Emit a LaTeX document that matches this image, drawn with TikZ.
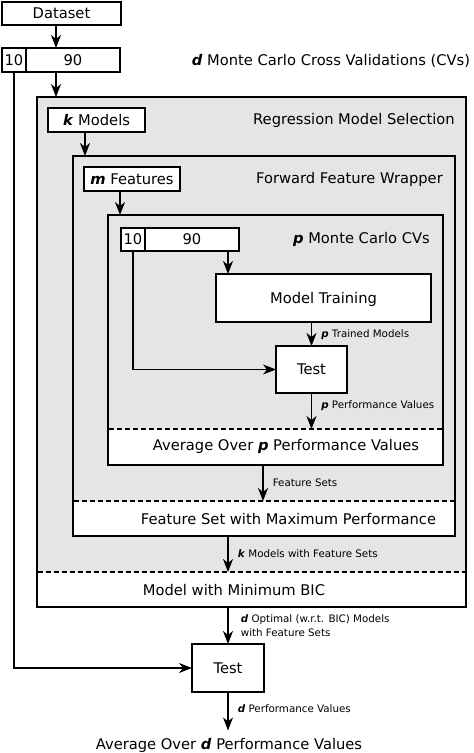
\documentclass[tikz,border=0pt]{standalone}
\usepackage{fontspec}
\setmainfont{DejaVu Sans}
\usetikzlibrary{arrows.meta}

\definecolor{fundo}{gray}{0.9}
\newcommand{\vbi}[1]{\textbf{\textit{#1}}}

\tikzset{
  caixa/.style={draw, line width=2pt, fill=white, inner sep=0pt, outer sep=0pt,
    font=\fontsize{14.7}{17}\selectfont, text height=10.7pt, text depth=0pt},
  painel/.style={draw, line width=2pt, fill=fundo, inner sep=0pt, outer sep=0pt},
  rodape/.style={fill=white, inner sep=0pt, outer sep=0pt, anchor=south},
  seta/.style={-{Stealth[length=13pt,width=10pt,inset=4pt]}, line width=1.7pt},
  tracejado/.style={dash pattern=on 4.5pt off 3.5pt, line width=1.6pt},
  texto/.style={font=\fontsize{14.7}{17}\selectfont, inner sep=0pt,
    text height=10.7pt, text depth=0pt},
  rotulo/.style={font=\fontsize{10.3}{12.5}\selectfont, inner sep=0pt, right=9pt,
    text height=7.5pt, text depth=0pt},
  rotulodois/.style={font=\fontsize{10.3}{13.5}\selectfont, inner sep=0pt, right=12pt,
    align=left},
}

\begin{document}
\begin{tikzpicture}[x=1pt,y=-1pt]
\useasboundingbox (0,0) rectangle (474,753);

% Dataset e divisao 10/90
\node[caixa, minimum width=119pt, minimum height=23pt] (dataset) at (61.5,13.5) {Dataset};
\node[caixa, minimum width=24pt, minimum height=24pt] (dez) at (14,60) {10};
\node[caixa, minimum width=94pt, minimum height=24pt] (noventa) at (73,60) {90};
\node[texto] (titulo) at (331,60) {\vbi{d} Monte Carlo Cross Validations (CVs)};

% Painel: selecao do modelo
\node[painel, minimum width=429pt, minimum height=510pt] (rms) at (251.5,352) {};
\node[rodape, minimum width=427pt, minimum height=34pt] (rmsbase) at ([yshift=1pt]rms.south) {};
\draw[tracejado] (rmsbase.north west) -- (rmsbase.north east);
\node[texto] (bic) at (234,590.5) {Model with Minimum BIC};
\node[texto, anchor=east] (rmstit) at (455,118.8) {Regression Model Selection};
\node[caixa, minimum width=97pt, minimum height=24pt] (kmod) at (96.5,120) {\vbi{k} Models};

% Painel: wrapper de features
\node[painel, minimum width=382pt, minimum height=380pt] (ffw) at (264,346) {};
\node[rodape, minimum width=380pt, minimum height=34pt] (ffwbase) at ([yshift=1pt]ffw.south) {};
\draw[tracejado] (ffwbase.north west) -- (ffwbase.north east);
\node[texto] (maxperf) at (288.5,518.8) {Feature Set with Maximum Performance};
\node[texto, anchor=east] (ffwtit) at (443,178.3) {Forward Feature Wrapper};
\node[caixa, minimum width=96pt, minimum height=24pt] (mfeat) at (132,179) {\vbi{m} Features};

% Painel: p Monte Carlo CVs
\node[painel, minimum width=335pt, minimum height=250pt] (mcc) at (275.5,340) {};
\node[rodape, minimum width=333pt, minimum height=35pt] (mccbase) at ([yshift=1pt]mcc.south) {};
\draw[tracejado] (mccbase.north west) -- (mccbase.north east);
\node[texto] (media) at (286,445) {Average Over \vbi{p} Performance Values};
\node[texto, anchor=east] (mcctit) at (430,238) {\vbi{p} Monte Carlo CVs};
\node[caixa, minimum width=24pt, minimum height=23pt] (dezp) at (133,239.5) {10};
\node[caixa, minimum width=94pt, minimum height=23pt] (noventap) at (192,239.5) {90};
\node[caixa, minimum width=215pt, minimum height=48pt] (treino) at (323.5,298) {Model Training};
\node[caixa, minimum width=71pt, minimum height=47pt] (testep) at (311.5,369.5) {Test};

% Teste final
\node[caixa, minimum width=72pt, minimum height=48pt] (teste) at (228,668) {Test};
\node[texto] (final) at (229,744) {Average Over \vbi{d} Performance Values};

% Setas
\coordinate (xa) at (56,0);
\coordinate (xk) at (85,0);
\coordinate (xm) at (120,0);
\coordinate (xn) at (228,0);
\coordinate (xf) at (263,0);
\draw[seta] (dataset.south -| xa) -- (noventa.north -| xa);
\draw[seta] (noventa.south -| xa) -- (rms.north -| xa);
\draw[seta] (dez.south) |- (teste.west);
\draw[seta] (kmod.south -| xk) -- (ffw.north -| xk);
\draw[seta] (mfeat.south -| xm) -- (mcc.north -| xm);
\draw[seta] (noventap.south -| xn) -- (treino.north -| xn);
\draw[seta] (treino.south -| testep) -- node[rotulo] (lbtreino) {\vbi{p} Trained Models} (testep.north);
\draw[seta, line width=1.1pt] (dezp.south) |- (testep.west);
\draw[seta] (testep.south) -- node[rotulo, pos=0.33] (lbperf) {\vbi{p} Performance Values} (mccbase.north -| testep);
\draw[seta] (mcc.south -| xf) -- node[rotulo] (lbsets) {Feature Sets} (ffwbase.north -| xf);
\draw[seta] (ffw.south -| teste) -- node[rotulo] (lbkmod) {\vbi{k} Models with Feature Sets} (rmsbase.north -| teste);
\draw[seta] (rms.south -| teste) -- node[rotulodois] (lbotim) {\vbi{d} Optimal (w.r.t. BIC) Models\\with Feature Sets} (teste.north);
\draw[seta, shorten >=8pt] (teste.south) -- node[rotulo, pos=0.36] (lbdperf) {\vbi{d} Performance Values} (final.north -| teste);

\end{tikzpicture}
\end{document}
